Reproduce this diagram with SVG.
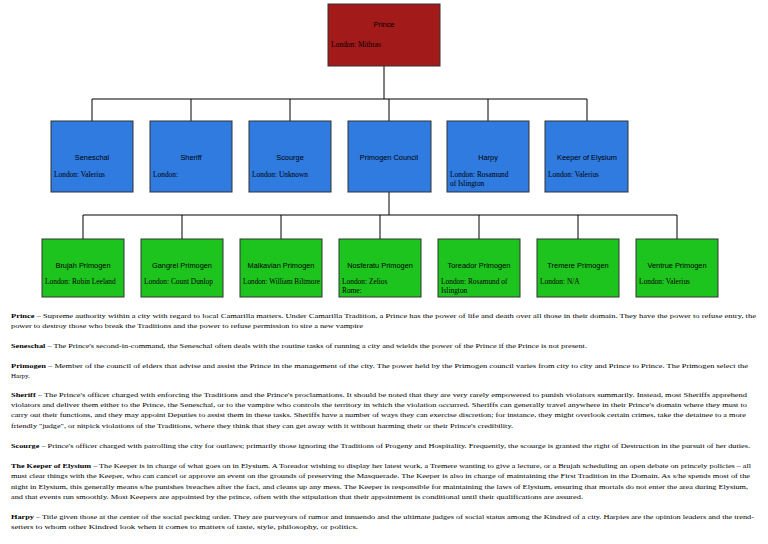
<svg xmlns="http://www.w3.org/2000/svg" width="768" height="544" viewBox="0 0 768 544">
<style>
.r{fill:#a31a1a;stroke:#333;stroke-width:1}
.b{fill:#2f7be0;stroke:#333;stroke-width:1}
.g{fill:#1ec41e;stroke:#333;stroke-width:1}
.t{font-family:"Liberation Serif",serif;font-size:7.4px;fill:#000}
.n{font-family:"Liberation Sans",sans-serif;font-size:7.4px;fill:#000}
.c{fill:none;stroke:#000;stroke-width:1}
.p{font-family:"Liberation Serif",serif;font-size:7px;fill:#000}
</style>
<rect width="768" height="544" fill="#fff"/>
<g id="connectors">
<path class="c" d="M384 66V99M92 99H587M92 99V121M191 99V121M290 99V121M389 99V121M488 99V121M587 99V121"/>
<path class="c" d="M389 192V215M83 215H677M83 215V239M182 215V239M281 215V239M380 215V239M479 215V239M578 215V239M677 215V239"/>
</g>
<g id="prince"><rect class="r" x="328" y="4" width="112" height="62"/><text class="n" x="384" y="27" text-anchor="middle">Prince</text><text class="t" x="331" y="47">London: Mithras</text></g>
<g id="seneschal"><rect class="b" x="51" y="121" width="82" height="71"/><text class="n" x="92" y="160" text-anchor="middle">Seneschal</text><text class="t" x="54" y="177">London: Valerius</text></g>
<g id="sheriff"><rect class="b" x="150" y="121" width="82" height="71"/><text class="n" x="191" y="160" text-anchor="middle">Sheriff</text><text class="t" x="153" y="177">London:</text></g>
<g id="scourge"><rect class="b" x="249" y="121" width="82" height="71"/><text class="n" x="290" y="160" text-anchor="middle">Scourge</text><text class="t" x="252" y="177">London: Unknown</text></g>
<g id="primogen"><rect class="b" x="348" y="121" width="83" height="71"/><text class="n" x="389" y="160" text-anchor="middle">Primogen Council</text></g>
<g id="harpy"><rect class="b" x="447" y="121" width="82" height="71"/><text class="n" x="488" y="160" text-anchor="middle">Harpy</text><text class="t" x="450" y="177">London:  Rosamund</text><text class="t" x="450" y="186">of Islington</text></g>
<g id="keeper"><rect class="b" x="545" y="121" width="83" height="71"/><text class="n" x="587" y="160" text-anchor="middle">Keeper of Elysium</text><text class="t" x="548" y="177">London: Valerius</text></g>
<g id="brujah"><rect class="g" x="42" y="239" width="82" height="58"/><text class="n" x="83" y="268" text-anchor="middle">Brujah Primogen</text><text class="t" x="45" y="284">London: Robin Leeland</text></g>
<g id="gangrel"><rect class="g" x="141" y="239" width="82" height="58"/><text class="n" x="182" y="268" text-anchor="middle">Gangrel Primogen</text><text class="t" x="144" y="284">London: Count Dunlop</text></g>
<g id="malkavian"><rect class="g" x="240" y="239" width="82" height="58"/><text class="n" x="281" y="268" text-anchor="middle">Malkavian Primogen</text><text class="t" x="243" y="284" textLength="77" lengthAdjust="spacingAndGlyphs">London: William Biltmore</text></g>
<g id="nosferatu"><rect class="g" x="339" y="239" width="82" height="58"/><text class="n" x="380" y="268" text-anchor="middle">Nosferatu Primogen</text><text class="t" x="342" y="284">London: Zelios</text><text class="t" x="342" y="293">Rome:</text></g>
<g id="toreador"><rect class="g" x="438" y="239" width="82" height="58"/><text class="n" x="479" y="268" text-anchor="middle">Toreador Primogen</text><text class="t" x="441" y="284">London: Rosamund of</text><text class="t" x="441" y="293">Islington</text></g>
<g id="tremere"><rect class="g" x="537" y="239" width="82" height="58"/><text class="n" x="578" y="268" text-anchor="middle">Tremere Primogen</text><text class="t" x="540" y="284">London: N/A</text></g>
<g id="ventrue"><rect class="g" x="636" y="239" width="82" height="58"/><text class="n" x="677" y="268" text-anchor="middle">Ventrue Primogen</text><text class="t" x="639" y="284">London: Valerius</text></g>
<g id="notes">
<text class="p" x="11" y="318" textLength="745" lengthAdjust="spacingAndGlyphs"><tspan font-weight="bold">Prince</tspan> – Supreme authority within a city with regard to local Camarilla matters.  Under Camarilla Tradition, a Prince has the power of life and death over all those in their domain. They have the power to refuse entry, the</text>
<text class="p" x="11" y="328" textLength="352" lengthAdjust="spacingAndGlyphs">power to destroy those who break the Traditions and the power to refuse permission to sire a new vampire</text>
<text class="p" x="11" y="348" textLength="576" lengthAdjust="spacingAndGlyphs"><tspan font-weight="bold">Seneschal</tspan> – The Prince's second-in-command, the Seneschal often deals with the routine tasks of running a city and wields the power of the Prince if the Prince is not present.</text>
<text class="p" x="11" y="368" textLength="737" lengthAdjust="spacingAndGlyphs"><tspan font-weight="bold">Primogen</tspan> – Member of the council of elders that advise and assist the Prince in the management of the city. The power held by the Primogen council varies from city to city and Prince to Prince. The Primogen select the</text>
<text class="p" x="11" y="378">Harpy.</text>
<text class="p" x="11" y="397" textLength="736" lengthAdjust="spacingAndGlyphs"><tspan font-weight="bold">Sheriff</tspan> – The Prince's officer charged with enforcing the Traditions and the Prince's proclamations.  It should be noted that they are very rarely empowered to punish violators summarily. Instead, most Sheriffs apprehend</text>
<text class="p" x="11" y="407" textLength="736" lengthAdjust="spacingAndGlyphs">violators and deliver them either to the Prince, the Seneschal, or to the vampire who controls the territory in which the violation occurred. Sheriffs can generally travel anywhere in their Prince's domain where they must to</text>
<text class="p" x="11" y="417" textLength="735" lengthAdjust="spacingAndGlyphs">carry out their functions, and they may appoint Deputies to assist them in these tasks. Sheriffs have a number of ways they can exercise discretion; for instance, they might overlook certain crimes, take the detainee to a more</text>
<text class="p" x="11" y="428" textLength="502" lengthAdjust="spacingAndGlyphs">friendly "judge", or nitpick violations of the Traditions, where they think that they can get away with it without harming their or their Prince's credibility.</text>
<text class="p" x="11" y="448" textLength="739" lengthAdjust="spacingAndGlyphs"><tspan font-weight="bold">Scourge</tspan> – Prince's officer charged with patrolling the city for outlaws; primarily those ignoring the Traditions of Progeny and Hospitality. Frequently, the scourge is granted the right of Destruction in the pursuit of her duties.</text>
<text class="p" x="11" y="468" textLength="740" lengthAdjust="spacingAndGlyphs"><tspan font-weight="bold">The Keeper of Elysium</tspan> – The Keeper is in charge of what goes on in Elysium. A Toreador wishing to display her latest work, a Tremere wanting to give a lecture, or a Brujah scheduling an open debate on princely policies – all</text>
<text class="p" x="11" y="478" textLength="739" lengthAdjust="spacingAndGlyphs">must clear things with the Keeper, who can cancel or approve an event on the grounds of preserving the Masquerade. The Keeper is also in charge of maintaining the First Tradition in the Domain. As s/he spends most of the</text>
<text class="p" x="11" y="489" textLength="737" lengthAdjust="spacingAndGlyphs">night in Elysium, this generally means s/he punishes breaches after the fact, and cleans up any mess. The Keeper is responsible for maintaining the laws of Elysium, ensuring that mortals do not enter the area during Elysium,</text>
<text class="p" x="11" y="499" textLength="572" lengthAdjust="spacingAndGlyphs">and that events run smoothly. Most Keepers are appointed by the prince, often with the stipulation that their appointment is conditional until their qualifications are assured.</text>
<text class="p" x="11" y="519" textLength="743" lengthAdjust="spacingAndGlyphs"><tspan font-weight="bold">Harpy</tspan> – Title given those at the center of the social pecking order. They are purveyors of rumor and innuendo and the ultimate judges of social status among the Kindred of a city. Harpies are the opinion leaders and the trend-</text>
<text class="p" x="11" y="529" textLength="347" lengthAdjust="spacingAndGlyphs">setters to whom other Kindred look when it comes to matters of taste, style, philosophy, or politics.</text>
</g>
</svg>
